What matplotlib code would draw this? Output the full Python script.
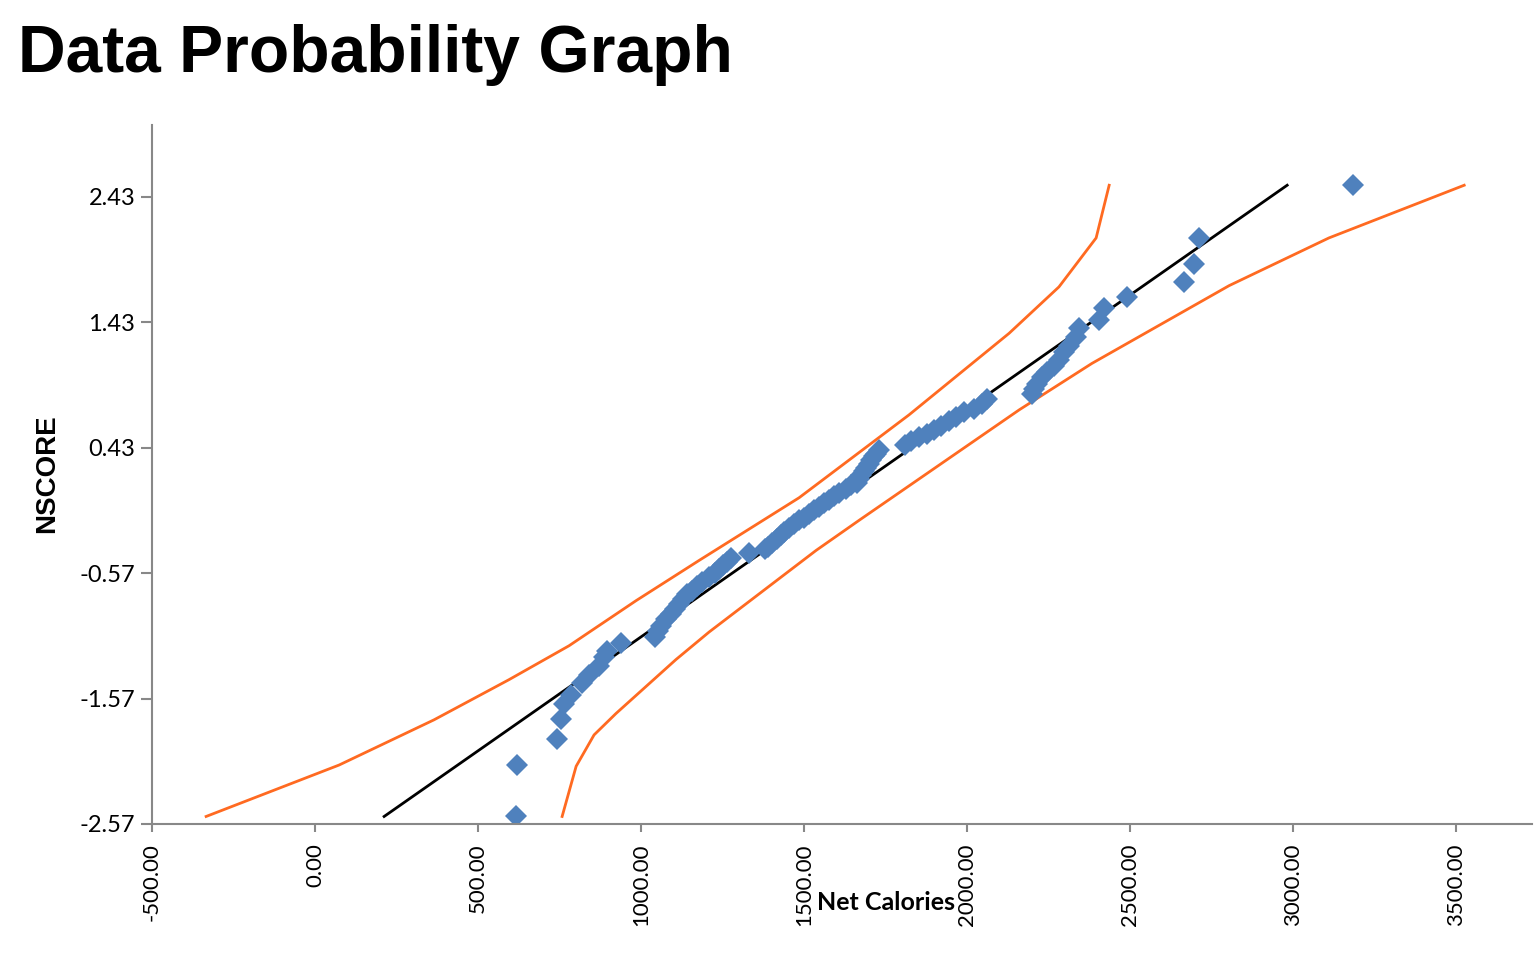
import numpy as np
import matplotlib.pyplot as plt

# Net calories (x) and normal scores (y)
net_calories = [
    617, 620, 742, 755, 764, 785, 819, 840, 871, 886,
    896, 939, 1043, 1052, 1061, 1077, 1092, 1104, 1117, 1129,
    1141, 1156, 1172, 1187, 1209, 1227, 1239, 1252, 1264, 1276,
    1331, 1380, 1390, 1402, 1417, 1429, 1439, 1454, 1469, 1485,
    1500, 1515, 1531, 1546, 1561, 1577, 1592, 1607, 1629, 1644,
    1663, 1669, 1675, 1684, 1690, 1699, 1706, 1715, 1721, 1730,
    1810, 1828, 1853, 1877, 1899, 1920, 1945, 1966, 1991, 2021,
    2046, 2061, 2200, 2206, 2215, 2230, 2245, 2267, 2282, 2298,
    2313, 2335, 2344, 2405, 2420, 2491, 2666, 2696, 2712, 3183,
]
nscore = [
    -2.51, -2.10, -1.89, -1.73, -1.61, -1.54, -1.45, -1.38, -1.31, -1.24,
    -1.19, -1.13, -1.08, -1.03, -0.99, -0.94, -0.90, -0.86, -0.82, -0.78,
    -0.74, -0.71, -0.67, -0.64, -0.60, -0.57, -0.54, -0.51, -0.48, -0.45,
    -0.41, -0.38, -0.36, -0.33, -0.30, -0.27, -0.24, -0.21, -0.18, -0.15,
    -0.13, -0.10, -0.07, -0.04, -0.01, 0.01, 0.04, 0.07, 0.10, 0.13,
    0.15, 0.18, 0.21, 0.24, 0.27, 0.30, 0.33, 0.36, 0.38, 0.41,
    0.45, 0.48, 0.51, 0.54, 0.57, 0.60, 0.64, 0.67, 0.71, 0.74,
    0.78, 0.82, 0.86, 0.90, 0.94, 0.99, 1.03, 1.08, 1.13, 1.19,
    1.24, 1.31, 1.38, 1.45, 1.54, 1.63, 1.75, 1.89, 2.10, 2.52,
]

# fitted line
fit_x = [212, 2982]
fit_y = [-2.51, 2.52]

# confidence band
upper_x = [-334, 74, 365, 595, 779, 985, 1178, 1485, 1822, 2129, 2282, 2396, 2436]
upper_y = [-2.51, -2.10, -1.74, -1.42, -1.15, -0.79, -0.47, 0.03, 0.69, 1.34, 1.71, 2.10, 2.52]
lower_x = [758, 801, 856, 923, 1107, 1209, 1537, 1669, 2160, 2383, 2804, 3110, 3525]
lower_y = [-2.51, -2.11, -1.86, -1.69, -1.26, -1.04, -0.39, -0.15, 0.73, 1.10, 1.72, 2.10, 2.52]

yticks = [-2.57, -1.57, -0.57, 0.43, 1.43, 2.43]
xticks = np.arange(-500, 3501, 500)

fig = plt.figure(figsize=(15.34, 9.56), dpi=100)
ax = fig.add_axes([152 / 1534, 132 / 956, 1380 / 1534, 699 / 956])

orange = '#FF6A21'
ax.plot(upper_x, upper_y, color=orange, lw=2)
ax.plot(lower_x, lower_y, color=orange, lw=2)
ax.plot(fit_x, fit_y, color='black', lw=2)
ax.plot(net_calories, nscore, linestyle='none', marker='D', markersize=11,
        color='#4F81BD', markeredgewidth=0)

ax.set_xlim(-500, 3733)
ax.set_ylim(-2.57, 3.0)
ax.set_xticks(xticks)
ax.set_xticklabels([f'{v:.2f}' for v in xticks], rotation=90, fontsize=16, family='Lato')
ax.set_yticks(yticks)
ax.set_yticklabels([f'{v:.2f}' for v in yticks], fontsize=17, family='Lato')

for side in ['top', 'right']:
    ax.spines[side].set_visible(False)
for side in ['left', 'bottom']:
    ax.spines[side].set_color('#888888')
    ax.spines[side].set_linewidth(1.5)
ax.tick_params(axis='x', direction='out', length=6, width=1.5, color='#888888', pad=8)
ax.tick_params(axis='y', direction='out', length=8, width=1.5, color='#888888', pad=4)

fig.text(18 / 1534, 1 - 72 / 956, 'Data Probability Graph', fontsize=47.5,
         fontweight='bold', family='Liberation Sans', va='baseline', ha='left')
fig.text(47 / 1534, 1 - 474 / 956, 'NSCORE', fontsize=20, fontweight='bold',
         family='Liberation Sans', rotation=90, va='center', ha='center')
fig.text(886 / 1534, 1 - 903 / 956, 'Net Calories', fontsize=18, fontweight='bold',
         family='Lato', va='center', ha='center')

fig.savefig('out.png', dpi=100)
